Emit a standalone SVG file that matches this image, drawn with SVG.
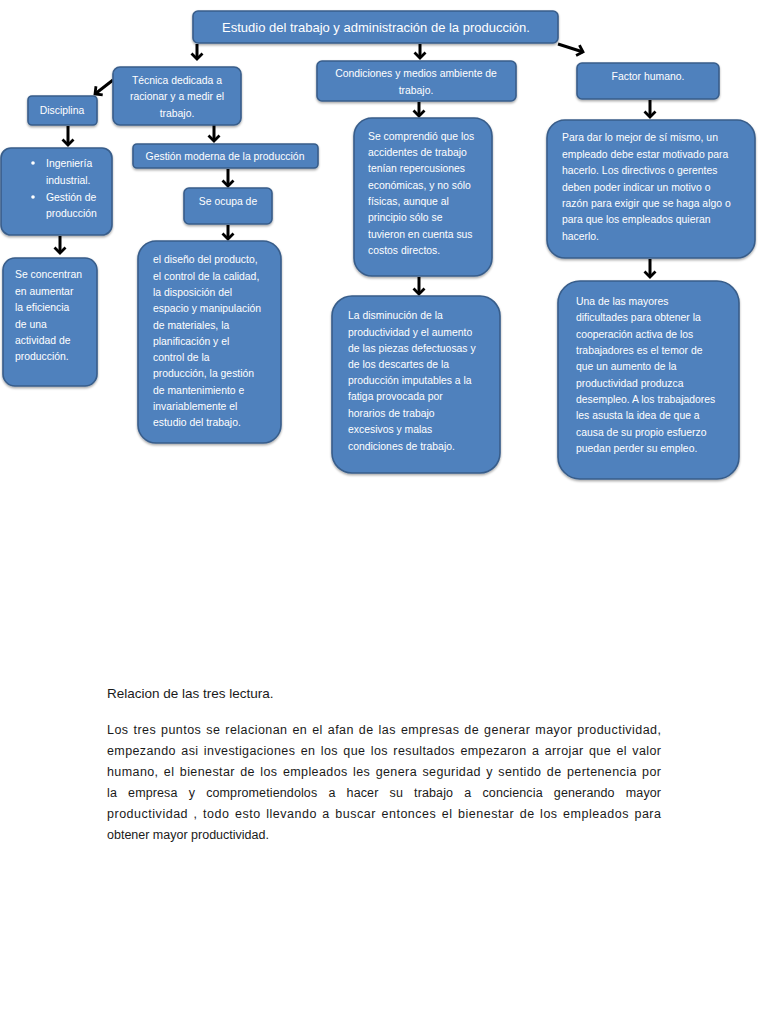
<svg xmlns="http://www.w3.org/2000/svg" width="768" height="1024" viewBox="0 0 768 1024">
<style>
.b{fill:#4F81BD;stroke:#385D8A;stroke-width:1.6}
.t{font-family:"Liberation Sans",Arial,sans-serif;font-size:10.4px;fill:#FFFFFF}
.c{text-anchor:middle}
.a{stroke:#000;stroke-width:3;fill:none}
.p{font-family:"Liberation Sans",Arial,sans-serif;font-size:12.5px;fill:#1a1a1a}
</style>
<defs>
<marker id="h" markerWidth="12" markerHeight="14" refX="0" refY="0" viewBox="-8 -7 10 14" orient="auto" markerUnits="userSpaceOnUse" overflow="visible">
<path d="M-5.5,-5.5 L0,0 L-5.5,5.5" fill="none" stroke="#000" stroke-width="2.8" stroke-linecap="butt" stroke-linejoin="miter"/>
</marker>
<filter id="s" x="-10%" y="-10%" width="120%" height="130%"><feDropShadow dx="0" dy="1.5" stdDeviation="1.2" flood-color="#000" flood-opacity="0.35"/></filter>
</defs>
<rect width="768" height="1024" fill="#FFFFFF"/>
<g id="connectors">
<line class="a" x1="197" y1="44" x2="197" y2="59" marker-end="url(#h)"/>
<line class="a" x1="420" y1="44" x2="420" y2="58" marker-end="url(#h)"/>
<line class="a" x1="558" y1="44" x2="583" y2="52" marker-end="url(#h)"/>
<line class="a" x1="113" y1="80" x2="95" y2="94" marker-end="url(#h)"/>
<line class="a" x1="214" y1="125" x2="214" y2="141" marker-end="url(#h)"/>
<line class="a" x1="228" y1="169" x2="228" y2="186" marker-end="url(#h)"/>
<line class="a" x1="228" y1="225" x2="228" y2="239" marker-end="url(#h)"/>
<line class="a" x1="68" y1="126" x2="68" y2="145" marker-end="url(#h)"/>
<line class="a" x1="60" y1="236" x2="60" y2="253" marker-end="url(#h)"/>
<line class="a" x1="419" y1="102" x2="419" y2="116" marker-end="url(#h)"/>
<line class="a" x1="419" y1="277" x2="419" y2="294" marker-end="url(#h)"/>
<line class="a" x1="650" y1="100" x2="650" y2="117" marker-end="url(#h)"/>
<line class="a" x1="650" y1="259" x2="650" y2="277" marker-end="url(#h)"/>
</g>
<g id="title"><rect class="b" filter="url(#s)" x="193" y="11" width="365" height="32" rx="5"/>
<text class="t c" x="376" y="32" style="font-size:13px">Estudio del trabajo y administración de la producción.</text></g>
<g id="tecnica"><rect class="b" filter="url(#s)" x="113" y="67" width="128" height="58" rx="7"/>
<text class="t c" x="177" y="84">Técnica dedicada a</text>
<text class="t c" x="177" y="100">racionar y a medir el</text>
<text class="t c" x="177" y="117">trabajo.</text></g>
<g id="disciplina"><rect class="b" filter="url(#s)" x="28" y="96" width="69" height="29" rx="4"/>
<text class="t c" x="62" y="114">Disciplina</text></g>
<g id="condiciones"><rect class="b" filter="url(#s)" x="317" y="61" width="199" height="40" rx="5"/>
<text class="t c" x="416" y="77">Condiciones y medios ambiente de</text>
<text class="t c" x="416" y="94">trabajo.</text></g>
<g id="factor"><rect class="b" filter="url(#s)" x="577" y="63" width="142" height="36" rx="5"/>
<text class="t c" x="648" y="80">Factor humano.</text></g>
<g id="ingenieria"><rect class="b" filter="url(#s)" x="1" y="148" width="111" height="87" rx="10"/>
<circle cx="33" cy="163" r="1.8" fill="#fff"/><circle cx="33" cy="197" r="1.8" fill="#fff"/>
<text class="t" x="46" y="167">Ingeniería</text>
<text class="t" x="46" y="184">industrial.</text>
<text class="t" x="46" y="201">Gestión de</text>
<text class="t" x="46" y="217">producción</text></g>
<g id="gestion"><rect class="b" filter="url(#s)" x="133" y="144" width="185" height="24" rx="4"/>
<text class="t c" x="225" y="160">Gestión moderna de la producción</text></g>
<g id="seocupa"><rect class="b" filter="url(#s)" x="184" y="188" width="88" height="36" rx="5"/>
<text class="t c" x="228" y="205">Se ocupa de</text></g>
<g id="seconcentran"><rect class="b" filter="url(#s)" x="3" y="258" width="94" height="128" rx="12"/>
<text class="t" x="15" y="278">Se concentran</text>
<text class="t" x="15" y="295">en aumentar</text>
<text class="t" x="15" y="311">la eficiencia</text>
<text class="t" x="15" y="328">de una</text>
<text class="t" x="15" y="344">actividad de</text>
<text class="t" x="15" y="360">producción.</text></g>
<g id="diseno"><rect class="b" filter="url(#s)" x="138" y="241" width="143" height="202" rx="18"/>
<text class="t" x="153" y="263">el diseño del producto,</text>
<text class="t" x="153" y="280">el control de la calidad,</text>
<text class="t" x="153" y="296">la disposición del</text>
<text class="t" x="153" y="312">espacio y manipulación</text>
<text class="t" x="153" y="329">de materiales, la</text>
<text class="t" x="153" y="345">planificación y el</text>
<text class="t" x="153" y="361">control de la</text>
<text class="t" x="153" y="377">producción, la gestión</text>
<text class="t" x="153" y="394">de mantenimiento e</text>
<text class="t" x="153" y="410">invariablemente el</text>
<text class="t" x="153" y="426">estudio del trabajo.</text></g>
<g id="secomprendio"><rect class="b" filter="url(#s)" x="354" y="118" width="138" height="158" rx="18"/>
<text class="t" x="368" y="140">Se comprendió que los</text>
<text class="t" x="368" y="156">accidentes de trabajo</text>
<text class="t" x="368" y="172">tenían repercusiones</text>
<text class="t" x="368" y="189">económicas, y no sólo</text>
<text class="t" x="368" y="205">físicas, aunque al</text>
<text class="t" x="368" y="221">principio sólo se</text>
<text class="t" x="368" y="238">tuvieron en cuenta sus</text>
<text class="t" x="368" y="254">costos directos.</text></g>
<g id="disminucion"><rect class="b" filter="url(#s)" x="332" y="296" width="168" height="177" rx="20"/>
<text class="t" x="348" y="319">La disminución de la</text>
<text class="t" x="348" y="336">productividad y el aumento</text>
<text class="t" x="348" y="352">de las piezas defectuosas y</text>
<text class="t" x="348" y="368">de los descartes de la</text>
<text class="t" x="348" y="384">producción imputables a la</text>
<text class="t" x="348" y="400">fatiga provocada por</text>
<text class="t" x="348" y="417">horarios de trabajo</text>
<text class="t" x="348" y="433">excesivos y malas</text>
<text class="t" x="348" y="450">condiciones de trabajo.</text></g>
<g id="paradar"><rect class="b" filter="url(#s)" x="547" y="120" width="208" height="138" rx="18"/>
<text class="t" x="562" y="141">Para dar lo mejor de sí mismo, un</text>
<text class="t" x="562" y="158">empleado debe estar motivado para</text>
<text class="t" x="562" y="174">hacerlo. Los directivos o gerentes</text>
<text class="t" x="562" y="191">deben poder indicar un motivo o</text>
<text class="t" x="562" y="207">razón para exigir que se haga algo o</text>
<text class="t" x="562" y="223">para que los empleados quieran</text>
<text class="t" x="562" y="240">hacerlo.</text></g>
<g id="unadelas"><rect class="b" filter="url(#s)" x="558" y="281" width="181" height="198" rx="22"/>
<text class="t" x="576" y="305">Una de las mayores</text>
<text class="t" x="576" y="321">dificultades para obtener la</text>
<text class="t" x="576" y="338">cooperación activa de los</text>
<text class="t" x="576" y="354">trabajadores es el temor de</text>
<text class="t" x="576" y="370">que un aumento de la</text>
<text class="t" x="576" y="387">productividad produzca</text>
<text class="t" x="576" y="403">desempleo. A los trabajadores</text>
<text class="t" x="576" y="419">les asusta la idea de que a</text>
<text class="t" x="576" y="436">causa de su propio esfuerzo</text>
<text class="t" x="576" y="452">puedan perder su empleo.</text></g>
<g id="relacion">
<text class="p" x="107" y="698" style="font-size:13.5px">Relacion de las tres lectura.</text>
<text class="p" x="107" y="734" word-spacing="1" textLength="554" lengthAdjust="spacing">Los tres puntos se relacionan en el afan de las empresas de generar mayor productividad,</text>
<text class="p" x="107" y="755" word-spacing="1.5" textLength="554" lengthAdjust="spacing">empezando asi investigaciones en los que los resultados empezaron a arrojar que el valor</text>
<text class="p" x="107" y="776" word-spacing="1.5" textLength="554" lengthAdjust="spacing">humano, el bienestar de los empleados les genera seguridad y sentido de pertenencia por</text>
<text class="p" x="107" y="797" word-spacing="7.5" textLength="554" lengthAdjust="spacing">la empresa y comprometiendolos a hacer su trabajo a conciencia generando mayor</text>
<text class="p" x="107" y="818" word-spacing="1.5" textLength="554" lengthAdjust="spacing">productividad , todo esto llevando a buscar entonces el bienestar de los empleados para</text>
<text class="p" x="107" y="839">obtener mayor productividad.</text>
</g>
</svg>
